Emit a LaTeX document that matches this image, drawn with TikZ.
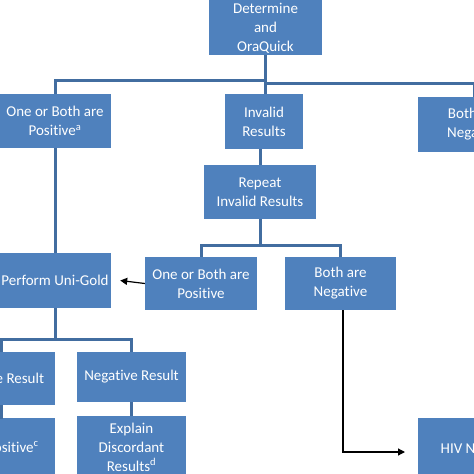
\documentclass[tikz,border=0pt]{standalone}
\usepackage{fontspec}
\setmainfont[Ligatures={NoCommon}]{Carlito}
\usetikzlibrary{arrows.meta}
\definecolor{boxblue}{RGB}{79,129,189}
\definecolor{linkblue}{RGB}{66,109,160}
\tikzset{
  box/.style={draw=none, fill=boxblue, text=white, align=center, inner sep=2pt,
    font=\fontsize{15}{19}\selectfont},
  conn/.style={draw=linkblue, line width=3pt},
  blackarrow/.style={draw=black, line width=1.2pt, -{Triangle[length=7pt,width=7pt]}}
}
\begin{document}
\begin{tikzpicture}[x=1pt,y=-1pt]
\useasboundingbox (0,0) rectangle (474,474);
\fill[white] (0,0) rectangle (474,474);
% boxes
\node[box, minimum width=113pt, minimum height=66pt] (top) at (265.5,22) {};
\node[box, inner sep=0pt] (toptext) at (265.5,28.5) {Determine\\and\\OraQuick};
\node[box, minimum width=112pt, minimum height=54pt] (posA) at (55,121) {One or Both are\\Positive\textsuperscript{a}};
\node[box, minimum width=78pt, minimum height=55pt] (inv) at (264,121.5) {Invalid\\Results};
\node[box, minimum width=112pt, minimum height=55pt] (negA) at (474,124.5) {Both are\\Negative};
\node[box, minimum width=112pt, minimum height=54pt] (rep) at (260,192) {Repeat\\Invalid Results};
\node[box, minimum width=112pt, minimum height=53pt] (posB) at (201,283.5) {One or Both are\\Positive};
\node[box, minimum width=111pt, minimum height=53pt] (negB) at (340.5,283.5) {Both are\\Negative};
\node[box, minimum width=112pt, minimum height=55pt] (uni) at (55,280.5) {Perform Uni-Gold};
\node[box, minimum width=110pt, minimum height=53pt] (posR) at (0,378.5) {Positive Result};
\node[box, minimum width=109pt, minimum height=50pt] (negR) at (131.5,377) {Negative Result};
\node[box, minimum width=110pt, minimum height=58pt] (hivP) at (0,447) {HIV Positive\textsuperscript{c}};
\node[box, minimum width=109pt, minimum height=62pt] (expl) at (131.5,447) {Explain\\Discordant\\Results\textsuperscript{d}};
\node[box, minimum width=124pt, minimum height=64pt] (hivN) at (480,450) {HIV Negative};
% junction coordinates
\coordinate (barL) at (55,80);
\coordinate (barR) at (474,83);
\coordinate (bar2) at (260,245);
\coordinate (bar3) at (55,339);
\coordinate (rline) at (475,150);
\coordinate (turn) at (343,452);
\coordinate (tipN) at (405,452);
% connectors
\draw[conn] (top.south) -- (top.south |- barR);
\draw[conn] (posA.north) -- (posA.north |- barL) -- (top.south |- barL);
\draw[conn] (top.south |- barR) -- (barR) -- (barR |- negA.north);
\draw[conn] (inv.north -| 265,0) -- (265,83);
\draw[conn] (inv.south -| rep.north) -- (rep.north);
\draw[conn] (rep.south) -- (bar2);
\draw[conn] (posB.north) -- (posB.north |- bar2) -- (negB.north |- bar2) -- (negB.north);
\draw[conn] (posA.south) -- (uni.north);
\draw[conn] (uni.south) -- (bar3);
\draw[conn] (1,352) -- (1,339) -- (negR.north |- bar3) -- (negR.north);
\draw[conn] (negR.south) -- (expl.north);
\draw[conn] (1,405) -- (1,419);
\draw[conn] (rline) -- (rline |- hivN.north);
% black arrows
\draw[blackarrow] (posB.west) -- ([xshift=9pt]uni.east);
\draw[blackarrow] (negB.south -| turn) -- (turn) -- (tipN);
\end{tikzpicture}
\end{document}
